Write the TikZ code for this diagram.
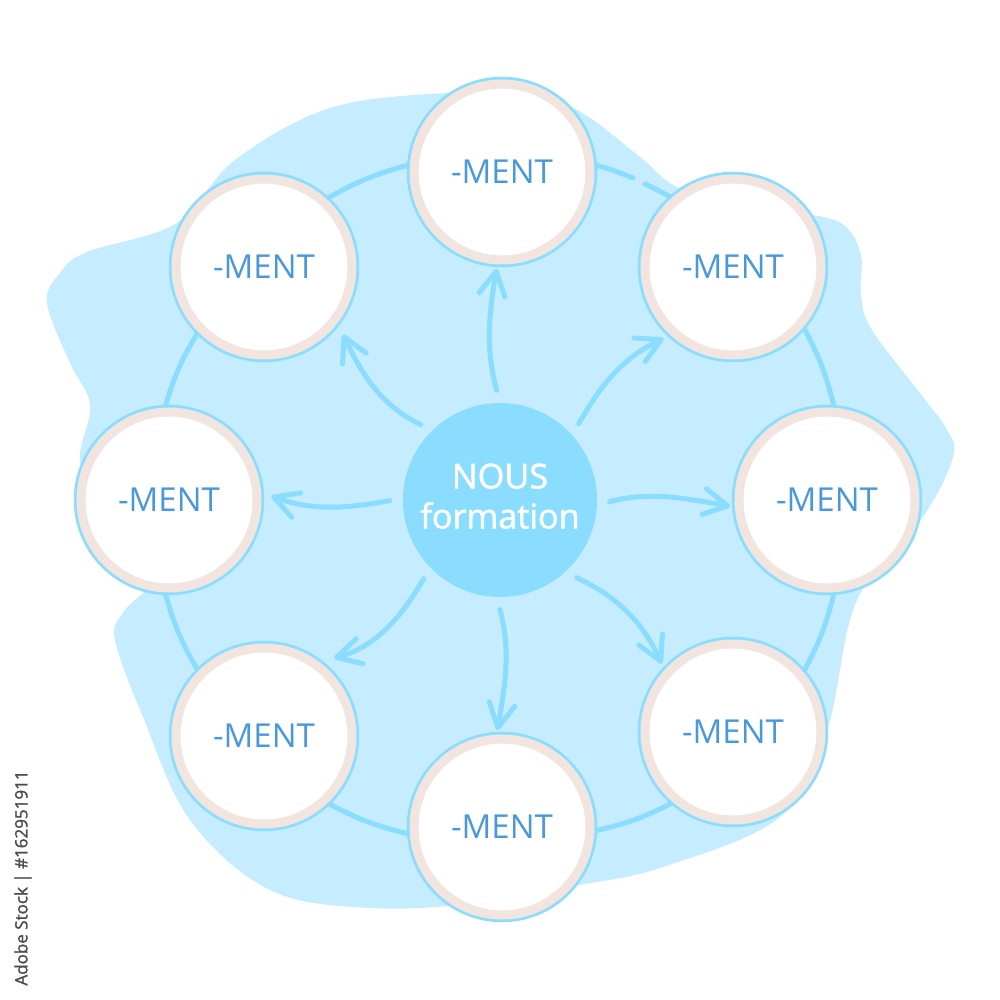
\documentclass[tikz,border=0pt]{standalone}
\usepackage{fontspec}
\setmainfont{Open Sans}
\newfontfamily\heavier[FakeBold=1.5]{Open Sans}
\usepackage{xcolor}
\definecolor{blob}{RGB}{197,237,255}
\definecolor{sky}{RGB}{138,221,255}
\definecolor{rim}{RGB}{242,228,223}
\definecolor{ink}{RGB}{74,152,220}
\usetikzlibrary{arrows.meta}
\tikzstyle{Ment} = [
circle, minimum size=176pt, inner sep=0pt, outer sep=7pt,
line width=9pt, draw=rim, fill=white, text=ink,
preaction={draw=sky, line width=14.5pt},
font=\fontsize{33}{36}\selectfont]
\tikzstyle{Hub} = [
circle, minimum size=194pt, inner sep=0pt, fill=sky, text=white,
align=center, font=\heavier\fontsize{34.2}{40}\selectfont]
\tikzstyle{Ring} = [draw=sky, line width=5pt, line cap=round]
\tikzstyle{Arrow} = [
draw=sky, line width=5pt, line cap=round,
-{Straight Barb[length=24pt, width=26pt, line width=5pt, round]},
shorten <=13pt, shorten >=2pt]

\begin{document}
\begin{tikzpicture}[x=1pt, y=1pt]
    \useasboundingbox (-500,-500) rectangle (500,500);
    \fill[blob] plot[smooth cycle, tension=0.6] coordinates {
        (-53,407) (20,404) (77,390) (140,343) (177,313) (240,295)
        (313,285) (345,274) (361,245) (361,205) (372,170)
        (423,103) (447,70) (453,43) (423,-17) (357,-100)
        (327,-230) (280,-317) (163,-367) (80,-385)
        (-20,-403) (-130,-408) (-230,-390) (-310,-320)
        (-357,-217) (-385,-140) (-377,-113) (-357,-93)
        (-330,-70) (-400,0) (-420,40) (-410,95) (-430,137)
        (-453,197) (-440,227) (-413,248) (-323,277)
        (-265,340) (-170,392)};

    \node [Hub, text depth=8pt] (hub) at (0,0) {NOUS\\formation};
    \node [Ment] (top) at (2,328) {-MENT};
    \node [Ment] (upright) at (233,233) {-MENT};
    \node [Ment] (right) at (327,0) {-MENT};
    \node [Ment] (lowright) at (233,-232) {-MENT};
    \node [Ment] (bottom) at (2,-327) {-MENT};
    \node [Ment] (lowleft) at (-236,-236) {-MENT};
    \node [Ment] (left) at (-331,0) {-MENT};
    \node [Ment] (upleft) at (-236,233) {-MENT};
    \coordinate (gapa) at (133,322);
    \coordinate (gapb) at (145,316);
    \node [rotate=90, text=black!70, font=\heavier\fontsize{17}{20}\selectfont] (stock) at (-477,-378) {Adobe Stock | \#162951911};

    \draw[Ring] (top.4) to [bend left=3] (gapa);
    \draw[Ring] (gapb) to [bend left=2] (upright.132);
    \draw[Ring] (upright.-41) to [bend left=7] (right.86);
    \draw[Ring] (right.-86) to [bend left=7] (lowright.41);
    \draw[Ring] (lowright.229) to [bend left=7] (bottom.-2);
    \draw[Ring] (bottom.184) to [bend left=7] (lowleft.-46);
    \draw[Ring] (lowleft.135) to [bend left=7] (left.268);
    \draw[Ring] (left.92) to [bend left=7] (upleft.225);
    \draw[Ring] (upleft.47) to [bend left=7] (top.176);

    \draw[Arrow] (hub.90) to [out=105, in=-100] (top.267);
    \draw[Arrow, shorten >=5pt] (hub.42) to [out=60, in=205] (upright.227);
    \draw[Arrow] (hub.-3) to [out=15, in=170] (right.184);
    \draw[Arrow, shorten >=4pt] (hub.-48) to [out=-25, in=115] (lowright.137);
    \draw[Arrow] (hub.-92) to [out=-75, in=80] (bottom.93);
    \draw[Arrow, shorten >=12pt] (hub.224) to [out=240, in=15] (lowleft.52);
    \draw[Arrow, shorten >=8pt] (hub.179) to [out=190, in=-20] (left.4);
    \draw[Arrow, shorten >=10pt] (hub.134) to [out=155, in=-65] (upleft.-38);
\end{tikzpicture}
\end{document}
